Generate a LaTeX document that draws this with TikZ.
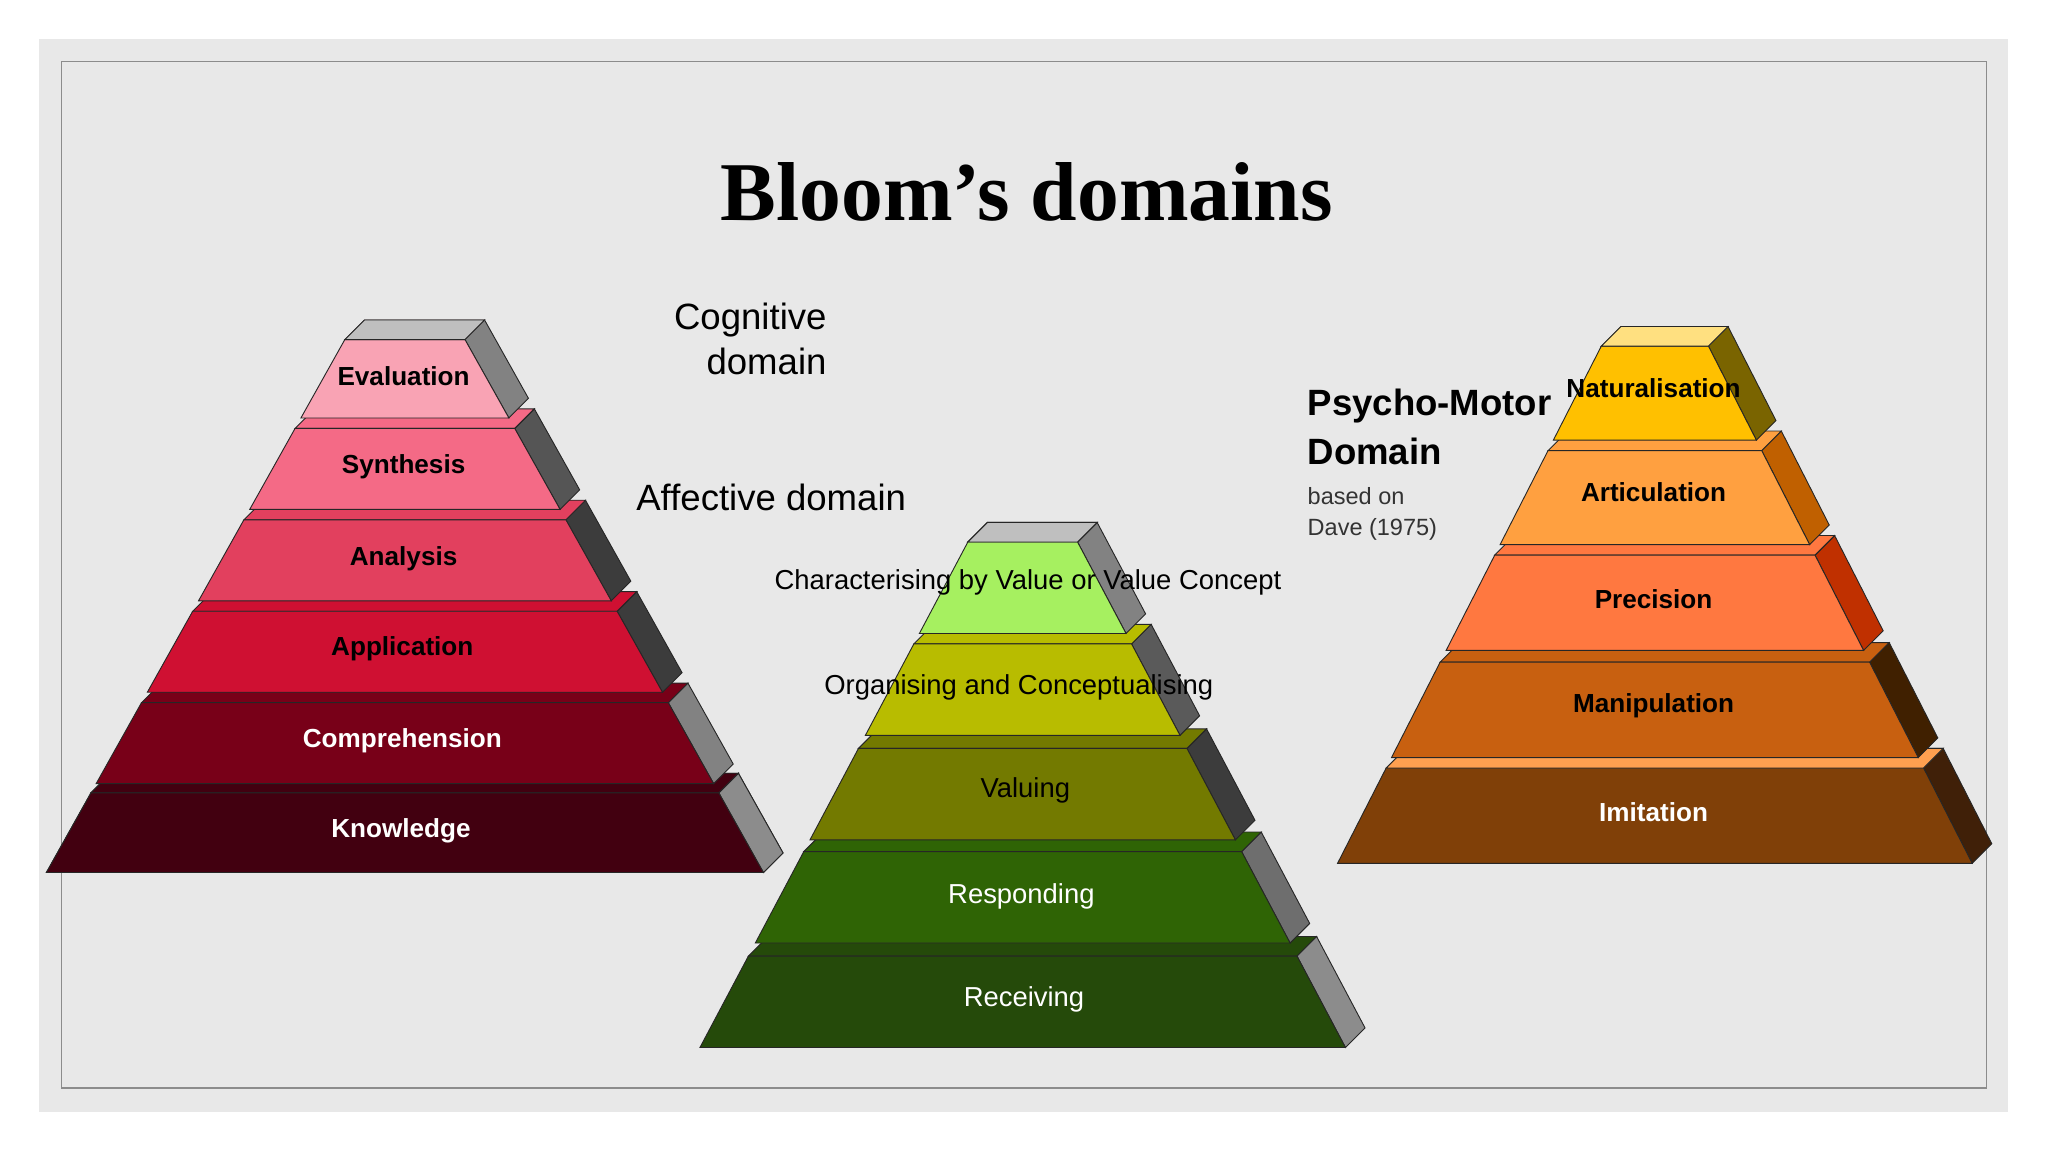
\documentclass[tikz,border=0pt]{standalone}
\usepackage{fontspec}
\setmainfont{Liberation Sans}
\newfontfamily\titlefont{Liberation Serif}
\begin{document}
\newcommand{\pyrlayer}[8]{% cx, yt, yb, slope, halftop-at-y0 ref, front, side, top
  \pgfmathsetmacro{\hwt}{#5+#4*(#2-#8)}%
  \pgfmathsetmacro{\hwb}{#5+#4*(#3-#8)}%
  \pgfmathsetmacro{\xlt}{#1-\hwt}\pgfmathsetmacro{\xrt}{#1+\hwt}%
  \pgfmathsetmacro{\xlb}{#1-\hwb}\pgfmathsetmacro{\xrb}{#1+\hwb}%
  \filldraw[face,fill=#7] (\xrt,#2) -- ++(15,-15) -- (\xrb+15,#3-15) -- (\xrb,#3) -- cycle;
  \filldraw[face,fill=#6] (\xlt,#2) -- ++(15,-15) -- (\xrt+15,#2-15) -- (\xrt,#2) -- cycle;
  \filldraw[face,fill=#6] (\xlt,#2) -- (\xrt,#2) -- (\xrb,#3) -- (\xlb,#3) -- cycle;
}
\begin{tikzpicture}[x=1pt,y=-1pt,
  face/.style={draw=black!85,line width=0.7pt},
  lab/.style={font=\fontsize{20}{22}\selectfont\bfseries,inner sep=0pt},
  head/.style={font=\fontsize{28}{34}\selectfont,inner sep=0pt,align=left}]
\useasboundingbox (0,0) rectangle (1568,882);
\fill[white] (0,0) rectangle (1568,882);
\fill[black!9] (30,30) rectangle (1537,851);
\draw[black!45,line width=0.8pt] (47,47) rectangle (1521,833);
\node[font=\titlefont\fontsize{64}{70}\selectfont\bfseries,inner sep=0pt] (title) at (786,147) {Bloom’s domains};
% Cognitive: args cx yt yb slope hw yref  -> order: #1 cx,#2 yt,#3 yb,#4 slope,#5 hw,#6 front,#7 side,#8 yref
\def\L#1#2#3#4{\pyrlayer{310}{#1}{#2}{0.56}{46}{#3}{#4}{260}}
\L{607}{668}{black!75!red!30!black}{gray!85}
\pyrlayer{310}{607}{668}{0.56}{46}{{rgb,255:red,66;green,0;blue,16}}{{rgb,255:red,140;green,140;blue,140}}{260}
\pyrlayer{310}{538}{600}{0.56}{46}{{rgb,255:red,120;green,0;blue,24}}{{rgb,255:red,130;green,130;blue,130}}{260}
\pyrlayer{310}{468}{530}{0.56}{46}{{rgb,255:red,207;green,16;blue,50}}{{rgb,255:red,60;green,60;blue,60}}{260}
\pyrlayer{310}{398}{460}{0.56}{46}{{rgb,255:red,226;green,64;blue,94}}{{rgb,255:red,60;green,60;blue,60}}{260}
\pyrlayer{310}{328}{390}{0.56}{46}{{rgb,255:red,244;green,106;blue,134}}{{rgb,255:red,85;green,85;blue,85}}{260}
\pyrlayer{310}{260}{320}{0.56}{46}{{rgb,255:red,249;green,163;blue,180}}{{rgb,255:red,130;green,130;blue,130}}{260}
\fill[black!25,draw=black!85,line width=0.7pt] ({310-46},260) -- ++(15,-15) -- ({310+46+15},245) -- ({310+46},260) -- cycle;
\node[lab] (eva) at (309,288) {Evaluation};
\node[lab] (syn) at (309,357) {Synthesis};
\node[lab] (ana) at (309,428) {Analysis};
\node[lab] (app) at (308,497) {Application};
\node[lab,white] (com) at (308,567) {Comprehension};
\node[lab,white] (kno) at (307,636) {Knowledge};
% Affective
\pyrlayer{783}{732}{802}{0.53}{42}{{rgb,255:red,37;green,74;blue,10}}{{rgb,255:red,140;green,140;blue,140}}{415}
\pyrlayer{783}{652}{722}{0.53}{42}{{rgb,255:red,47;green,100;blue,5}}{{rgb,255:red,110;green,110;blue,110}}{415}
\pyrlayer{783}{573}{643}{0.53}{42}{{rgb,255:red,115;green,122;blue,0}}{{rgb,255:red,60;green,60;blue,60}}{415}
\pyrlayer{783}{493}{563}{0.53}{42}{{rgb,255:red,184;green,188;blue,0}}{{rgb,255:red,90;green,90;blue,90}}{415}
\pyrlayer{783}{415}{485}{0.53}{42}{{rgb,255:red,166;green,240;blue,96}}{{rgb,255:red,130;green,130;blue,130}}{415}
\fill[black!25,draw=black!85,line width=0.7pt] ({783-42},415) -- ++(15,-15) -- ({783+42+15},400) -- ({783+42},415) -- cycle;
% Psycho
\pyrlayer{1267}{588}{661}{0.51}{41}{{rgb,255:red,128;green,64;blue,8}}{{rgb,255:red,64;green,32;blue,8}}{265}
\fill[draw=black!85,line width=0.7pt,fill={rgb,255:red,255;green,160;blue,80}] ({1267-(41+0.51*323)},588) -- ++(15,-15) -- ({1267+41+0.51*323+15},573) -- ({1267+41+0.51*323},588) -- cycle;
\pyrlayer{1267}{507}{580}{0.51}{41}{{rgb,255:red,200;green,96;blue,16}}{{rgb,255:red,64;green,32;blue,0}}{265}
\pyrlayer{1267}{425}{498}{0.51}{41}{{rgb,255:red,255;green,120;blue,64}}{{rgb,255:red,192;green,48;blue,0}}{265}
\pyrlayer{1267}{345}{417}{0.51}{41}{{rgb,255:red,255;green,160;blue,64}}{{rgb,255:red,192;green,96;blue,0}}{265}
\pyrlayer{1267}{265}{337}{0.51}{41}{{rgb,255:red,255;green,192;blue,0}}{{rgb,255:red,122;green,100;blue,0}}{265}
\fill[draw=black!85,line width=0.7pt,fill={rgb,255:red,255;green,224;blue,128}] ({1267-41},265) -- ++(15,-15) -- ({1267+41+15},250) -- ({1267+41},265) -- cycle;
\node[lab] (nat) at (1266,297) {Naturalisation};
\node[lab] (art) at (1266,377) {Articulation};
\node[lab] (pre) at (1266,459) {Precision};
\node[lab] (man) at (1266,540) {Manipulation};
\node[lab,white] (imi) at (1266,622) {Imitation};
% Affective labels
\node[lab,font=\fontsize{21}{22}\selectfont] (cha) at (787,446) {Characterising by Value or Value Concept};
\node[lab,font=\fontsize{21}{22}\selectfont] (org) at (780,526) {Organising and Conceptualising};
\node[lab,font=\fontsize{21}{22}\selectfont] (val) at (785,605) {Valuing};
\node[lab,font=\fontsize{21}{22}\selectfont,white] (res) at (782,686) {Responding};
\node[lab,font=\fontsize{21}{22}\selectfont,white] (rec) at (784,765) {Receiving};
% Headings
\node[head,align=right,anchor=north east] (cog) at (633,232) {Cognitive\\domain};
\node[head,anchor=west] (aff) at (487,381) {Affective domain};
\node[head,anchor=north west,font=\fontsize{28}{37}\selectfont\bfseries] (psy) at (1001,298) {Psycho-Motor\\Domain};
\node[anchor=north west,inner sep=0pt,align=left,font=\fontsize{18}{24}\selectfont,text=black!80] (dave) at (1001,373) {based on\\Dave (1975)};
\end{tikzpicture}
\end{document}
